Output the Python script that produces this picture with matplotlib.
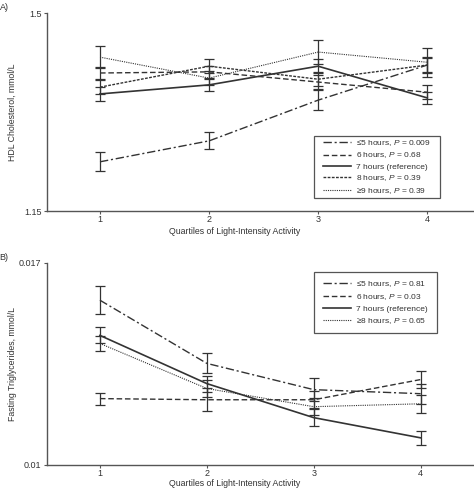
"""Two-panel line chart of HDL cholesterol and triglycerides by quartile of light activity
"""
import matplotlib
matplotlib.use("Agg")
import matplotlib.pyplot as plt
from matplotlib.patches import Rectangle

plt.rcParams['font.family'] = ['Liberation Sans', 'DejaVu Sans']
plt.rcParams['mathtext.fontset'] = 'custom'
plt.rcParams['mathtext.it'] = 'Liberation Sans:italic'
plt.rcParams['mathtext.rm'] = 'Liberation Sans'

quartiles = [1, 2, 3, 4]

# panel A: HDL cholesterol, mmol/L
hdl_labels = [r"≤5 hours, $\it{P}$ = 0.009", r"6 hours, $\it{P}$ = 0.68",
              "7 hours (reference)", r"8 hours, $\it{P}$ = 0.39",
              r"≥9 hours, $\it{P}$ = 0.39"]
hdl_le5 = [1.237, 1.274, 1.346, 1.408]
hdl_6 = [1.394, 1.396, 1.378, 1.360]
hdl_7 = [1.357, 1.373, 1.406, 1.350]
hdl_8 = [1.369, 1.406, 1.383, 1.408]
hdl_ge9 = [1.422, 1.385, 1.431, 1.413]
hdl_err_le5 = [0.017, 0.015, 0.018, 0.014]
hdl_err_6 = [0.010, 0.010, 0.012, 0.012]
hdl_err_7 = [0.012, 0.011, 0.012, 0.011]
hdl_err_8 = [0.012, 0.012, 0.012, 0.012]
hdl_err_ge9 = [0.020, 0.012, 0.021, 0.026]

# panel B: fasting triglycerides, mmol/L
tg_labels = [r"≤5 hours, $\it{P}$ = 0.81", r"6 hours, $\it{P}$ = 0.03",
             "7 hours (reference)", r"≥8 hours, $\it{P}$ = 0.65"]
tg_le5 = [0.01571, 0.01352, 0.01261, 0.01247]
tg_6 = [0.01230, 0.01226, 0.01226, 0.01296]
tg_7 = [0.01449, 0.01282, 0.01164, 0.01094]
tg_ge8 = [0.01421, 0.01265, 0.01202, 0.01212]
tg_err_le5 = [0.00049, 0.00035, 0.00040, 0.00035]
tg_err_6 = [0.00021, 0.00040, 0.00030, 0.00028]
tg_err_7 = [0.00028, 0.00028, 0.00030, 0.00025]
tg_err_ge8 = [0.00025, 0.00028, 0.00030, 0.00032]

INK = '#333333'
LEG_FS = 6  # legend font size, pt
STYLES = {
    'dashdot': (0, (6, 2, 1.5, 2)),
    'dashed': (0, (4, 2)),
    'solid': '-',
    'short': (0, (2, 1)),
    'dotted': (0, (1, 1)),
}


def draw_panel(ax, series, errors, styles, labels, ylim, yticks, ylabel, tag,
               xlim, loc, pad, spacing, xlab_y):
    for vals, err, st, lab in zip(series, errors, styles, labels):
        lw = 1.2 if st == 'solid' else 1.0
        if st == 'dotted':
            lw = 0.8
        ax.plot(quartiles, vals, color=INK, linestyle=STYLES[st], linewidth=lw, label=lab)
        ax.errorbar(quartiles, vals, yerr=err, fmt='none', ecolor=INK,
                    elinewidth=0.9, capsize=3.5, capthick=0.9)

    ax.set_xlim(*xlim)
    ax.set_ylim(*ylim)
    ax.set_xticks(quartiles)
    ax.set_yticks(yticks)
    ax.set_yticklabels([str(t) for t in yticks])
    ax.spines['top'].set_visible(False)
    ax.spines['right'].set_visible(False)
    for s in ['left', 'bottom']:
        ax.spines[s].set_color('#555555')
        ax.spines[s].set_linewidth(1.0)
    ax.tick_params(labelsize=6.5, colors='#555555', labelcolor='#333333',
                   length=2.5, width=0.8, pad=1.5)
    ax.tick_params(axis='x', length=2, pad=1)
    ax.set_xlabel('Quartiles of Light-Intensity Activity', fontsize=6.3, color='#333333')
    ax.xaxis.set_label_coords(0.44, xlab_y)
    ax.set_ylabel(ylabel, fontsize=6.3, color='#333333')
    ax.yaxis.set_label_coords(-0.071, 0.5)

    leg = ax.legend(loc='upper left', bbox_to_anchor=loc, fontsize=LEG_FS, frameon=False,
                    handlelength=3.35, labelspacing=spacing,
                    borderpad=pad, handletextpad=0.6, borderaxespad=0)
    for t in leg.get_texts():
        t.set_color('#333333')
    ax.figure.text(ax.get_position().x0 - 0.1, ax.get_position().y1 + 0.012, tag,
                   fontsize=6.5, color='#333333', va='center', ha='left')
    return leg


def frame_legend(fig, leg, pad):
    # box drawn by hand: wider side padding than top/bottom
    renderer = fig.canvas.get_renderer()
    bb = leg.get_window_extent(renderer)
    dx = 9 - pad * LEG_FS * fig.dpi / 72
    bb = bb.expanded((bb.width + 2 * dx) / bb.width, 1.0)
    bb = bb.transformed(fig.transFigure.inverted())
    fig.patches.append(Rectangle((bb.x0, bb.y0), bb.width, bb.height, fill=False,
                                 edgecolor='#555555', linewidth=0.9,
                                 transform=fig.transFigure, figure=fig))


fig = plt.figure(figsize=(4.74, 4.88), dpi=100)
ax_a = fig.add_axes([0.0992, 0.5676, 0.8987, 0.4057])
ax_b = fig.add_axes([0.0992, 0.0472, 0.8987, 0.4139])

leg_a = draw_panel(ax_a,
                   [hdl_le5, hdl_6, hdl_7, hdl_8, hdl_ge9],
                   [hdl_err_le5, hdl_err_6, hdl_err_7, hdl_err_8, hdl_err_ge9],
                   ['dashdot', 'dashed', 'solid', 'short', 'dotted'],
                   hdl_labels, (1.15, 1.5), [1.15, 1.5],
                   'HDL Cholesterol, mmol/L', 'A)', (0.514, 4.42),
                   (0.643, 0.379), 0.25, 0.3, -0.08)

leg_b = draw_panel(ax_b,
                   [tg_le5, tg_6, tg_7, tg_ge8],
                   [tg_err_le5, tg_err_6, tg_err_7, tg_err_ge8],
                   ['dashdot', 'dashed', 'solid', 'dotted'],
                   tg_labels, (0.01, 0.017), [0.01, 0.017],
                   'Fasting Triglycerides, mmol/L', 'B)', (0.505, 4.49),
                   (0.632, 0.955), 0.85, 0.37, -0.069)

fig.canvas.draw()
frame_legend(fig, leg_a, 0.25)
frame_legend(fig, leg_b, 0.85)

fig.savefig('out.png', dpi=100, facecolor='white')
plt.close(fig)
